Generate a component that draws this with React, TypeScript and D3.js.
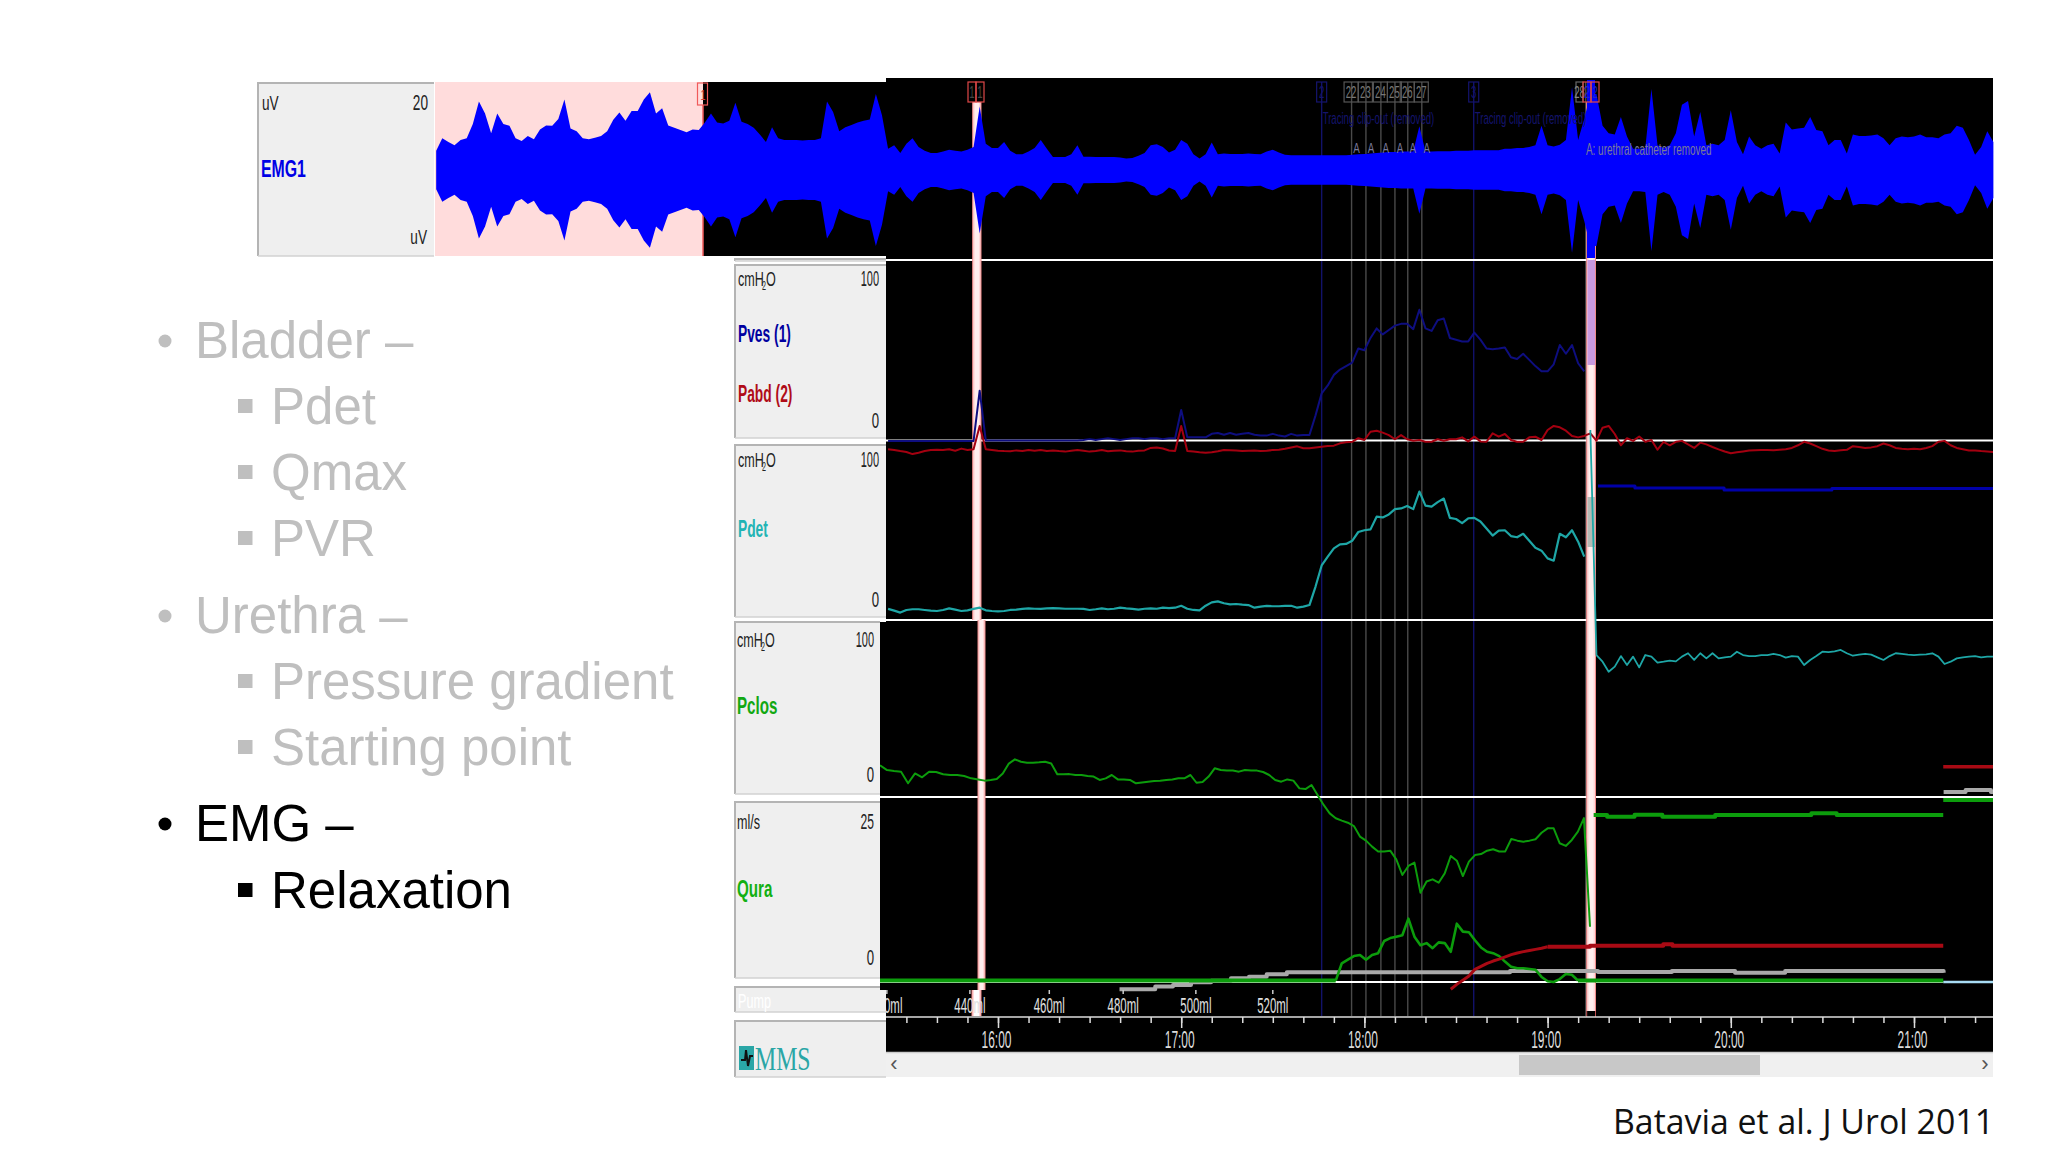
import * as d3 from "d3";

// all traces share one time grid: a sample every 2 minutes, counted from 15:24
const gridStart = -36;
const gridStep = 2;
const gridMinute = (i: number) => gridStart + gridStep * i;

const pvesBefore = [
  -0.5, -0.5, -0.5, -0.5, -0.5, -0.5, -0.5, -0.5, -0.5, -0.5, -0.5, -0.5, -0.5, -0.5, -0.5, 28,
  -0.3, -0.3, -0.3, -0.3, -0.3, -0.3, -0.3, -0.3, -0.3, -0.3, -0.3, -0.3, -0.3, -0.3, -0.3, -0.3,
  0, 0.5, 0, 0.5, 1, 0.5, 0, 0.5, 1, 1, 0.5, 1, 1, 0.5, 1, 1, 17,
  1.5, 1.5, 1.5, 1.5, 3.5, 4, 3, 4, 3, 3.5, 4, 3, 2.5, 2.5, 3.5, 2.5, 2, 3.5, 2.5, 2.8, 2.8, 14,
  26.5, 31, 37, 40, 42, 44, 52, 51, 58, 63.4, 60, 62.5, 65, 66, 66, 63, 74, 63.4, 62, 68, 69, 58,
  57, 56, 56, 61, 57, 52, 51.6, 52, 52.6, 47, 46, 49, 45.5, 42, 39, 39, 43, 54, 49, 54, 43.6, 39,
];
const pvesAfterMinutes = [196.5, 208.6, 237.8, 273.1, 326];
const pvesAfterValues = [-26.1, -27.3, -28.4, -27.5, -27.5];

const pabdValues = [
  -5.3, -5.7, -6.3, -6.8, -8, -7.2, -6.3, -5.7, -5.5, -5.7, -5.3, -6.1, -4.9, -5.7, -5.3, 8,
  -5.3, -5.7, -6.1, -6.3, -6.4, -5.9, -6.3, -5.7, -6.1, -5.7, -6.3, -5.9, -6.3, -6.6, -6.1, -5.7,
  -6.1, -6.6, -6.3, -5.7, -6.4, -6.1, -5.9, -6.4, -6.6, -6.1, -5.9, -4.5, -4.2, -4.8, -6, -6.3, 8,
  -6.3, -6.6, -7, -7.2, -7, -6.4, -5.7, -5.8, -6, -6.3, -6.1, -6, -6.3, -6.1, -5.7, -5.5, -5, -4.3, -3.6,
  -4.7, -4.7, -4.2, -3.8, -3.4, -3.2, -1.9, -1.3, -1, 1, 0, 4.7, 5.3, 4.2, 2.8, 0.4, 2.8, 0.4, -0.4, 0,
  -1, -1, 0.4, -0.4, 0.4, 0.4, 1.5, -0.8, 1.9, -0.8, -1, 3.8, 1.9, 3.4, 0, -1, -1, 1.5, 1.9, 0, 5.7, 8,
  7.2, 5.3, 2.3, 1.5, 2.3, 3.8, -0.4, 7, 8, 3.4, -3, 1, -0.5, 2, -1, 0, -5.5, -1, -3, -1, -0.5, -2.5,
  -4.5, -1.5, -2.5, -4, -5.3, -6.5, -7.5, -7, -6.5, -6, -5.8, -5.7, -5.7, -5.8, -5.5, -5.2, -4.5, -3,
  -1, -2, -3.5, -5, -6, -6.2, -5.8, -5.6, -3.5, -4, -4.5, -4.2, -3.5, -2, -3, -4.5, -5, -5.3, -5, -5.2,
  -4.5, -3.5, -1, -0.5, -3, -4.5, -5.2, -6, -6, -6.3, -6.5, -6.8,
];

const pdetBefore = [
  6.3, 5.3, 4.2, 5.7, 6.1, 6.1, 5.7, 5.3, 5.1, 5.7, 6.6, 5.9, 5.1, 5.5, 6.3, 7, 5.5, 5.1, 4.9, 5.1,
  5.7, 5.9, 6.3, 6.6, 6.4, 6.3, 6.6, 6.8, 6.6, 6.4, 6.4, 6.4, 6.3, 5.7, 6.1, 6.6, 6.1, 6.4, 7, 6.6,
  6.3, 5.9, 6.4, 6.6, 6.4, 7, 6.8, 7, 8.1, 6.4, 5.7, 5.5, 8.1, 10, 10.6, 9.5, 8.9, 9.1, 8.7, 8.5,
  7, 7.6, 8, 7.8, 7.8, 8, 8.1, 7, 7.6, 8.5, 19, 31, 36, 40.7, 43, 43.2, 45, 50, 51, 51.5, 58.7, 58.3,
  60, 63, 63.4, 64.8, 63, 73, 65, 64.4, 67, 69, 58, 57.4, 55, 57.8, 58, 56, 52, 48, 50.8, 51, 47.7,
  47, 49, 45, 41, 39.4, 35, 33.7, 49, 47, 51, 44.5, 36,
];
const pdetAfter = [
  108, -19.9, -23.7, -29.4, -26.5, -20.5, -25.6, -20.8, -26.9, -19.9, -20.8, -24.2, -23.7, -23.1,
  -23.5, -20.8, -18.9, -22.7, -18.9, -21.8, -18.9, -21.8, -21.2, -20.8, -18, -19.9, -20.5, -20.5,
  -20, -20, -19.3, -19.9, -21.4, -20.5, -20.8, -25.6, -22.7, -20.5, -18, -18.2, -17.8, -17, -18.9,
  -20.3, -19.7, -19.3, -19.7, -21.2, -22.7, -20.5, -18.9, -19.3, -19.7, -19.9, -19.7, -19.5, -18.9,
  -20.8, -25, -23.7, -21.8, -21.2, -20.8, -20.5, -21.2, -20.8, -20.8,
];

const pclosBefore = [
  18, 15.3, 14.8, 14.4, 7.8, 13.4, 11.2, 14.4, 14.2, 12.9, 12.5, 12.5, 11.9, 10.6, 10, 9.3, 9.7,
  10.2, 13.4, 19, 21.4, 20, 19.5, 19.5, 19.7, 20, 19, 12.9, 12.9, 13, 12.5, 12.5, 11.9, 11.6, 9.7,
  10.6, 12.5, 10, 10, 9.7, 7.8, 8.3, 8.7, 9.1, 9.3, 9.7, 10, 10.6, 10.6, 12.5, 8.1, 8.5, 11.6, 16.3,
  15.3, 15, 15, 14.4, 15.3, 15, 15, 14.2, 12.5, 9.7, 8.7, 10, 9.3, 4.9, 4.5, 6.8, 1.1, -4.5, -9.3,
  -12.1, -13.4, -14.6, -16.5, -22.5, -24.8, -28.2, -31, -30.9, -30.5, -35.4, -44.3, -39.2, -37.3,
  -54.4, -48, -46.8, -48.7, -43.4, -33.5, -36.2, -44.9, -36.7, -33, -32.4, -30.5, -29.7, -31, -30.9,
  -23.9, -24.8, -25.4, -24.8, -24, -20.3, -17.8, -17.8, -26.3, -27.8, -24.4, -19.7, -12, -73.7,
];
const pclosAfterMinutes = [195.2, 199.6, 208.6, 217.7, 235, 266.5, 274.8, 309.7];
const pclosAfterValues = [-10.2, -11.2, -10.1, -11.2, -10.2, -9.3, -10.2, -10.2];
const pclosTailMinutes = [309.7, 326];
const pclosTailValues = [-1.7, -1.7];

const quraRise = [
  0.2, 2.6, 3.1, 3.6, 3.75, 3.1, 3.75, 4, 5.7, 6.1, 6.3, 6.5, 8.8, 6.3, 5.1, 5.4, 4.7, 5.5, 5.4, 4.2,
  8.1, 7, 6.9, 5.8, 4.8, 4.2, 4, 3.6, 2.8, 2.1, 1.9, 1.9, 1.8, 1.7, 0.7, 0.1, 0, 0.4, 1.1, 1, 0.2,
];
const quraIdleBeforeMinutes = [-38, 110];
const quraIdleAfterMinutes = [190, 309.7];
const quraIdleValues = [0.2, 0.2];

const volumeRise = [2, 15, 26, 37, 55, 63, 71, 77, 82, 88, 94, 98.5, 102, 105, 108, 111, 115];
const volumeFlatMinutes = [180, 194, 218, 221, 309.7];
const volumeFlatValues = [115, 118, 122, 118, 118];
const volumeTailMinutes = [309.7, 326];
const volumeTailValues = [594, 594];

const pumpMinutes = [39.8, 51.5, 57.3, 63.2, 69.8, 76.3, 82.2, 88, 94.6, 167.7, 196.5, 220.7, 241.4, 257.8, 309.7];
const pumpValues = [2, 9, 13, 20.4, 24.8, 31, 35.5, 41.7, 47, 50.5, 48, 50.5, 46, 50.5, 46];
const pumpTailMinutes = [309.7, 316.9, 325.2, 326];
const pumpTailValues = [526.6, 532, 526.6, 526.6];

// EMG envelope in uV, one amplitude every 2 minutes of screen time
const emgStart = -184;
const emgAmplitude = [
  4.2, 6.9, 6.1, 5.4, 6.5, 6.9, 10, 14.9, 12.3, 8, 12.3, 10, 9.6, 6.9, 6.3, 7.4, 6.7, 8.8, 9.7, 9.6,
  11.1, 15.3, 9, 8.4, 6.9, 6.7, 7, 7.4, 8.4, 10.9, 12.5, 10.7, 12.8, 12.8, 15.3, 16.9, 12.3, 13.4,
  9.7, 9.2, 8.7, 8.2, 8.8, 8.7, 10.3, 12.3, 10.3, 10.1, 10.7, 14.6, 10.5, 10, 9.2, 7.7, 6.1, 9.3,
  6.9, 6.5, 6.5, 6.5, 6.4, 6.5, 6.5, 6.9, 14.9, 12.6, 8.4, 9.3, 9.8, 10.3, 10.7, 11, 16.5, 11.9, 4.6,
  5.4, 3.7, 5.7, 6.9, 5, 4.2, 3.7, 3.7, 4, 4.4, 4.2, 4, 4.4, 5, 13.8, 5.7, 4.8, 4.8, 6.1, 4.2, 3.4,
  3.4, 4, 4.8, 6.5, 4.6, 2.8, 2.8, 2.8, 3.4, 5.4, 2.9, 2.9, 2.8, 2.8, 2.8, 2.8, 2.7, 2.5, 2.6, 3.1,
  3.7, 5.4, 5.6, 5, 3.8, 4.4, 6.5, 5.7, 3.4, 2.5, 3.4, 6, 3.4, 3.6, 3.5, 3.5, 3.5, 3.6, 3.5, 3.4, 4,
  4.4, 3.8, 3.3, 3.2, 3.2, 3.2, 3.2, 3.2, 3.2, 3.2, 3.2, 3.2, 3.2, 3.3, 3.4, 3.5, 3.6, 3.7, 3.8, 3.9,
  3.9, 4, 4, 4, 9.5, 4, 4, 4.1, 4.1, 4.1, 4.2, 4.2, 4.2, 4.3, 4.3, 4.3, 4.3, 4.3, 4.6, 4.6, 4.8, 4.8,
  5, 5.4, 9.6, 5.4, 5.1, 5.5, 6.5, 18, 6.5, 11.1, 16.5, 16.5, 9.6, 8, 7.7, 11.5, 7.3, 4.6, 4.6, 4.8,
  17.6, 5.4, 4.8, 5.4, 8, 14.2, 15, 7.3, 12.6, 5.4, 5.7, 5.4, 6.5, 13, 6.1, 3.4, 7.3, 5.4, 4.6, 5.4,
  5.7, 3.6, 10.3, 8.8, 9, 9.2, 11.5, 8.7, 8.4, 5.4, 6.5, 6.5, 3.6, 7.7, 7.4, 7.4, 7.5, 7.7, 6.9, 5.4,
  6.9, 7.3, 7.1, 7.3, 7.7, 7.1, 7.1, 6.9, 7.7, 8, 9.6, 9.2, 6.5, 3.3, 5, 8.4, 6.1,
];

// minutes after 16:00 for the event lines and their numbered flags
const eventMinutes = [115.8, 120.5, 125.4, 130, 134.2, 138.8];
const eventLabels = ["22", "23", "24", "25", "26", "27"];
const clipMinutes = [106, 155.8];
const lastEventMinute = 192.5;

const hourMinutes = [0, 60, 120, 180, 240, 300];
const hourLabels = ["16:00", "17:00", "18:00", "19:00", "20:00", "21:00"];
const minorMinutes = d3.range(-30, 330, 10);
const fillMinutes = [-36.4, -9.2, 16.8, 41, 64.8, 90];
const fillLabels = ["420ml", "440ml", "460ml", "480ml", "500ml", "520ml"];

const greyText = "#bfbfbf";
const bulletRows = [
  { label: "Bladder –", level: 0, y: 358, on: false },
  { label: "Pdet", level: 1, y: 424, on: false },
  { label: "Qmax", level: 1, y: 490, on: false },
  { label: "PVR", level: 1, y: 556, on: false },
  { label: "Urethra –", level: 0, y: 633, on: false },
  { label: "Pressure gradient", level: 1, y: 699, on: false },
  { label: "Starting point", level: 1, y: 765, on: false },
  { label: "EMG –", level: 0, y: 841, on: true },
  { label: "Relaxation", level: 1, y: 908, on: true },
];

const plotRight = 1993;

const timeX = d3.scaleLinear().domain([0, 300]).range([998, 1914]);
// the two lower strips were scrolled a little differently left of the second cursor
const lowerX = d3.scaleLinear().domain([-36, -7.2, 194, 326]).range([880, 981, 1590, 1993]);

const emgY = d3.scaleLinear().domain([-20, 20]).range([262, 78]);
const pvesY = d3.scaleLinear().domain([0, 100]).range([440, 264]);
const pdetY = d3.scaleLinear().domain([0, 100]).range([620, 444]);
const pclosY = d3.scaleLinear().domain([0, 100]).range([797, 621]);
const quraY = d3.scaleLinear().domain([0, 25]).range([982, 802]);
const volumeY = d3.scaleLinear().domain([0, 500]).range([990, 802]);

type Scale = d3.ScaleLinear<number, number>;

const gridPath = (values: number[], first: number, x: Scale, y: Scale) =>
  d3
    .line<number>()
    .x((_, k) => x(gridMinute(first + k)))
    .y((v) => y(v))(values) as string;

const stepPath = (minutes: number[], values: number[], x: Scale, y: Scale) =>
  d3
    .line<number>()
    .curve(d3.curveStepAfter)
    .x((m) => x(m))
    .y((_, k) => y(values[k]))(minutes) as string;

const emgPath = d3
  .area<number>()
  .x((_, j) => timeX(emgStart + gridStep * j))
  .y0((a) => emgY(a))
  .y1((a) => emgY(-a))(emgAmplitude) as string;

const Narrow = ({
  x,
  y,
  fill = "#222",
  size = 22,
  anchor = "start",
  bold = false,
  squeeze = 0.6,
  children,
}: any) => (
  <text
    transform={`translate(${x},${y}) scale(${squeeze},1)`}
    fontFamily="'Liberation Sans', Arial, sans-serif"
    fontSize={size}
    fontWeight={bold ? 700 : 400}
    fill={fill}
    textAnchor={anchor}
  >
    {children}
  </text>
);

const CmH2O = ({ x, y }: { x: number; y: number }) => (
  <g>
    <Narrow x={x} y={y} size={21}>cmH</Narrow>
    <Narrow x={x + 24} y={y + 4} size={12}>2</Narrow>
    <Narrow x={x + 28} y={y} size={21}>O</Narrow>
  </g>
);

const Panel = ({ x, y, w, h }: { x: number; y: number; w: number; h: number }) => (
  <g>
    <rect x={x} y={y} width={w} height={h} fill="#efefef" />
    <path d={`M${x},${y + h} V${y} H${x + w}`} fill="none" stroke="#b4b4b4" strokeWidth={2} />
    <path d={`M${x},${y + h} H${x + w}`} fill="none" stroke="#d2d2d2" strokeWidth={1.5} />
  </g>
);

const Band = ({ x, w, y0, y1 }: { x: number; w: number; y0: number; y1: number }) => (
  <g>
    <rect x={x} y={y0} width={w} height={y1 - y0} fill="#ffd9d9" />
    <rect x={x + 2} y={y0} width={w - 4} height={y1 - y0} fill="#ffeeee" />
    <line x1={x} x2={x} y1={y0} y2={y1} stroke="#f08a8a" strokeWidth={1} />
    <line x1={x + w} x2={x + w} y1={y0} y2={y1} stroke="#f08a8a" strokeWidth={1} />
  </g>
);

const Flag = ({ x, w, stroke, color, label }: any) => (
  <g>
    <rect x={x} y={82} width={w} height={20} fill="#000" fillOpacity={0} stroke={stroke} strokeWidth={1.2} />
    <Narrow x={x + w / 2} y={98} size={16} fill={color} anchor="middle" squeeze={0.6}>
      {label}
    </Narrow>
  </g>
);

export default function App() {
  return (
    <svg
      width={2048}
      height={1152}
      style={{ position: "absolute", left: 0, top: 0, background: "#fff" }}
    >
      <defs>
        <clipPath id="plot-clip">
          <rect x={880} y={78} width={plotRight - 880} height={974} />
        </clipPath>
        <clipPath id="fill-clip">
          <rect x={886} y={990} width={plotRight - 886} height={27} />
        </clipPath>
      </defs>

      {/* slide text */}
      {bulletRows.map((row) => {
        const color = row.on ? "#000" : greyText;
        return (
          <g key={row.label}>
            {row.level === 0 ? (
              <circle cx={165} cy={row.y - 17} r={6.5} fill={color} />
            ) : (
              <rect x={238} y={row.y - 25} width={14.5} height={14} fill={color} />
            )}
            <text
              x={row.level === 0 ? 195 : 271}
              y={row.y}
              fontFamily="'Liberation Sans', Arial, sans-serif"
              fontSize={51}
              fill={color}
            >
              {row.label}
            </text>
          </g>
        );
      })}
      <text
        x={1613}
        y={1134}
        fontFamily="'Open Sans', sans-serif"
        fontSize={35}
        fill="#111"
        textLength={381}
        lengthAdjust="spacingAndGlyphs"
      >
        Batavia et al. J Urol 2011
      </text>

      {/* left hand label panels */}
      <Panel x={258} y={83} w={176} h={173} />
      <Panel x={735} y={259} w={151} h={2} />
      <Panel x={735} y={265} w={151} h={173} />
      <Panel x={735} y={445} w={151} h={172} />
      <Panel x={735} y={622} w={145} h={172} />
      <Panel x={735} y={802} w={145} h={176} />
      <Panel x={735} y={987} w={151} h={25} />
      <Panel x={735} y={1021} w={151} h={56} />

      {/* plot backgrounds */}
      <rect x={435} y={82} width={268} height={174} fill="#ffdcdc" />
      <rect x={703} y={82} width={183} height={174} fill="#000" />
      <rect x={886} y={78} width={plotRight - 886} height={974} fill="#000" />
      <rect x={880} y={622} width={6} height={368} fill="#000" />
      <rect x={886} y={1053} width={plotRight - 886} height={24} fill="#f0f0f0" />
      <rect x={1519} y={1055} width={241} height={20} fill="#c8c8c8" />
      <text x={894} y={1071} fontSize={22} fill="#555" textAnchor="middle" fontFamily="'Liberation Sans'">‹</text>
      <text x={1985} y={1071} fontSize={22} fill="#555" textAnchor="middle" fontFamily="'Liberation Sans'">›</text>

      {/* event lines */}
      {eventMinutes.concat(lastEventMinute).map((m) => (
        <line key={m} x1={timeX(m)} x2={timeX(m)} y1={82} y2={1016} stroke="#4a4a4a" strokeWidth={1.4} />
      ))}
      {clipMinutes.map((m) => (
        <line key={m} x1={timeX(m)} x2={timeX(m)} y1={82} y2={1016} stroke="#12126a" strokeWidth={1.4} />
      ))}

      {/* strip separators */}
      <line x1={886} x2={plotRight} y1={260} y2={260} stroke="#fff" strokeWidth={2} />
      <line x1={886} x2={plotRight} y1={440.5} y2={440.5} stroke="#fff" strokeWidth={2} />
      <line x1={886} x2={plotRight} y1={620} y2={620} stroke="#fff" strokeWidth={2} />
      <line x1={880} x2={plotRight} y1={797} y2={797} stroke="#fff" strokeWidth={2} />
      <line x1={880} x2={lowerX(309.7)} y1={982} y2={982} stroke="#fff" strokeWidth={2} />
      <line x1={lowerX(309.7)} x2={plotRight} y1={982} y2={982} stroke="#a8dcf4" strokeWidth={2.5} />

      {/* cursors */}
      <line x1={703} x2={703} y1={105} y2={256} stroke="#f05a5a" strokeWidth={1.5} />
      <Band x={972.7} w={8.3} y0={102} y1={620} />
      <Band x={978} w={7} y0={620} y1={990} />
      <Band x={972} w={9} y0={990} y1={1016} />
      <rect x={974} y={990} width={5} height={26} fill="#fff" />
      <Band x={1586.7} w={8.8} y0={102} y1={1011} />
      <rect x={1587.5} y={260} width={7.5} height={105} fill="#c99ae0" />
      <rect x={1587.5} y={497} width={7.5} height={50} fill="#b5bab5" />
      <line x1={1586.7} x2={1586.7} y1={1011} y2={1017} stroke="#c05050" />
      <line x1={1595.5} x2={1595.5} y1={1011} y2={1017} stroke="#c05050" />

      {/* traces */}
      <g fill="none" strokeLinejoin="round" clipPath="url(#plot-clip)">
        <path d={gridPath(pvesBefore, 0, timeX, pvesY)} stroke="#0e0e80" strokeWidth={2} />
        <path d={stepPath(pvesAfterMinutes, pvesAfterValues, timeX, pvesY)} stroke="#0000a8" strokeWidth={3} />
        <path d={gridPath(pabdValues, 0, timeX, pvesY)} stroke="#a40010" strokeWidth={2} />
        <path d={gridPath(pdetBefore, 0, timeX, pdetY)} stroke="#1ea6a6" strokeWidth={2.2} />
        <path d={gridPath(pdetAfter, 115, timeX, pdetY)} stroke="#1ea6a6" strokeWidth={1.8} />
        <path d={stepPath(pumpMinutes, pumpValues, timeX, volumeY)} stroke="#a9a9a9" strokeWidth={4} />
        <path d={stepPath(pumpTailMinutes, pumpTailValues, timeX, volumeY)} stroke="#a9a9a9" strokeWidth={4} />
        <path d={gridPath(pclosBefore, 0, lowerX, pclosY)} stroke="#0c9c0c" strokeWidth={2} />
        <path d={stepPath(pclosAfterMinutes, pclosAfterValues, lowerX, pclosY)} stroke="#0c9c0c" strokeWidth={4} />
        <path d={stepPath(pclosTailMinutes, pclosTailValues, lowerX, pclosY)} stroke="#0c9c0c" strokeWidth={4} />
        <path d={stepPath(quraIdleBeforeMinutes, quraIdleValues, lowerX, quraY)} stroke="#0c9c0c" strokeWidth={4} />
        <path d={stepPath(quraIdleAfterMinutes, quraIdleValues, lowerX, quraY)} stroke="#0c9c0c" strokeWidth={4} />
        <path d={gridPath(quraRise, 73, lowerX, quraY)} stroke="#0c9c0c" strokeWidth={2.6} />
        <path d={gridPath(volumeRise, 92, lowerX, volumeY)} stroke="#a80a14" strokeWidth={3} />
        <path d={stepPath(volumeFlatMinutes, volumeFlatValues, lowerX, volumeY)} stroke="#a80a14" strokeWidth={4} />
        <path d={stepPath(volumeTailMinutes, volumeTailValues, lowerX, volumeY)} stroke="#a80a14" strokeWidth={3.5} />
      </g>
      <path d={emgPath} fill="#0000ff" />
      <line x1={1591} x2={1591} y1={80} y2={258} stroke="#0000ff" strokeWidth={8} />

      {/* fill volume ruler */}
      <g clipPath="url(#fill-clip)">
        {fillMinutes.map((m, i) => (
          <g key={fillLabels[i]}>
            <line x1={timeX(m)} x2={timeX(m)} y1={990} y2={994} stroke="#ccc" strokeWidth={1.5} />
            <Narrow x={timeX(m)} y={1013} fill="#e0e0e0" size={22} anchor="middle" squeeze={0.52}>
              {fillLabels[i]}
            </Narrow>
          </g>
        ))}
      </g>

      {/* time axis */}
      <g
        transform="translate(0,1017)"
        ref={(node) => {
          if (!node) return;
          const g = d3.select(node as SVGGElement);
          g.call(d3.axisBottom(timeX).tickValues(minorMinutes).tickSize(6).tickFormat(() => "") as any);
          g.selectAll(".domain").remove();
          g.selectAll("line").attr("stroke", "#ddd").attr("stroke-width", 1.5);
        }}
      />
      <g
        transform="translate(0,1017)"
        ref={(node) => {
          if (!node) return;
          const g = d3.select(node as SVGGElement);
          g.call(
            d3
              .axisBottom(timeX)
              .tickValues(hourMinutes)
              .tickSize(11)
              .tickFormat((_, i) => hourLabels[i]) as any
          );
          g.selectAll(".domain").remove();
          g.selectAll("line").attr("stroke", "#ddd").attr("stroke-width", 1.5);
          g.selectAll("text")
            .attr("fill", "#dcdcdc")
            .attr("font-family", "'Liberation Sans', Arial, sans-serif")
            .attr("font-size", 23)
            .attr("y", 0)
            .attr("dy", 0)
            .attr("transform", "translate(-2,31) scale(0.52,1)");
        }}
      />
      <line x1={886} x2={plotRight} y1={1017} y2={1017} stroke="#ddd" strokeWidth={1.5} />
      <line x1={886} x2={plotRight} y1={1052.5} y2={1052.5} stroke="#ccc" strokeWidth={1.5} />

      {/* event flags and notes */}
      <rect x={697.5} y={83} width={10} height={22} fill="none" stroke="#f05a5a" strokeWidth={1.2} />
      <Narrow x={703} y={100} size={15} fill="#d04040" anchor="middle" squeeze={0.6}>1</Narrow>
      <Flag x={968} w={8} stroke="#e04848" color="#444" label="1" />
      <Flag x={976} w={8} stroke="#e04848" color="#444" label="1" />
      {eventMinutes.map((m, i) => (
        <Flag key={m} x={timeX(m) - 7.5} w={14} stroke="#555" color="#777" label={eventLabels[i]} />
      ))}
      {clipMinutes.map((m, i) => (
        <Flag key={m} x={timeX(m) - 5} w={10} stroke="#14146e" color="#14146e" label={i === 0 ? "2" : "3"} />
      ))}
      <Flag x={1576} w={7} stroke="#666" color="#888" label="28" />
      <Flag x={1583} w={8} stroke="#e04848" color="#2222cc" label="2" />
      <Flag x={1591} w={8} stroke="#e04848" color="#2222cc" label="2" />
      {clipMinutes.map((m) => (
        <Narrow key={m} x={timeX(m) + 1} y={124} size={16} fill="#14146e" squeeze={0.6}>
          Tracing clip-out (removed)
        </Narrow>
      ))}
      {eventMinutes.map((m) => (
        <Narrow key={m} x={timeX(m) + 5} y={153} size={14} fill="#7a7a9a" anchor="middle" squeeze={0.7}>A</Narrow>
      ))}
      <Narrow x={1586} y={155} size={16} fill="#7a7a9a" squeeze={0.62}>A: urethral catheter removed</Narrow>

      {/* panel text */}
      <Narrow x={262} y={110} size={21} squeeze={0.65}>uV</Narrow>
      <Narrow x={428} y={110} squeeze={0.62} anchor="end">20</Narrow>
      <Narrow x={261} y={177} fill="#0000e6" size={24} bold squeeze={0.66}>EMG1</Narrow>
      <Narrow x={427} y={244} anchor="end" size={21} squeeze={0.65}>uV</Narrow>

      <CmH2O x={738} y={286} />
      <Narrow x={879} y={286} anchor="end" squeeze={0.5}>100</Narrow>
      <Narrow x={738} y={342} fill="#0000a0" size={23} bold squeeze={0.6}>Pves (1)</Narrow>
      <Narrow x={738} y={402} fill="#b00c18" size={23} bold squeeze={0.6}>Pabd (2)</Narrow>
      <Narrow x={879} y={428} anchor="end">0</Narrow>

      <CmH2O x={738} y={467} />
      <Narrow x={879} y={467} anchor="end" squeeze={0.5}>100</Narrow>
      <Narrow x={738} y={537} fill="#22b4b4" size={23} bold squeeze={0.6}>Pdet</Narrow>
      <Narrow x={879} y={607} anchor="end">0</Narrow>

      <CmH2O x={737} y={647} />
      <Narrow x={874} y={647} anchor="end" squeeze={0.5}>100</Narrow>
      <Narrow x={737} y={714} fill="#12a812" size={23} bold squeeze={0.66}>Pclos</Narrow>
      <Narrow x={874} y={782} anchor="end">0</Narrow>

      <Narrow x={737} y={829} size={21} squeeze={0.6}>ml/s</Narrow>
      <Narrow x={874} y={829} anchor="end" squeeze={0.55}>25</Narrow>
      <Narrow x={737} y={897} fill="#12b012" size={23} bold squeeze={0.66}>Qura</Narrow>
      <Narrow x={874} y={965} anchor="end">0</Narrow>

      <Narrow x={738} y={1008} fill="#fff" size={21}>Pump</Narrow>

      <rect x={739} y={1046} width={15} height={24} fill="#2aa6a6" />
      <path d="M741,1060 L745,1060 L746,1050 L748,1066 L750,1056 L753,1056" fill="none" stroke="#111" strokeWidth={2} />
      <text
        transform="translate(755,1070) scale(0.7,1)"
        fontFamily="'Liberation Serif', serif"
        fontSize={34}
        fill="#2aa6a6"
      >
        MMS
      </text>
    </svg>
  );
}
